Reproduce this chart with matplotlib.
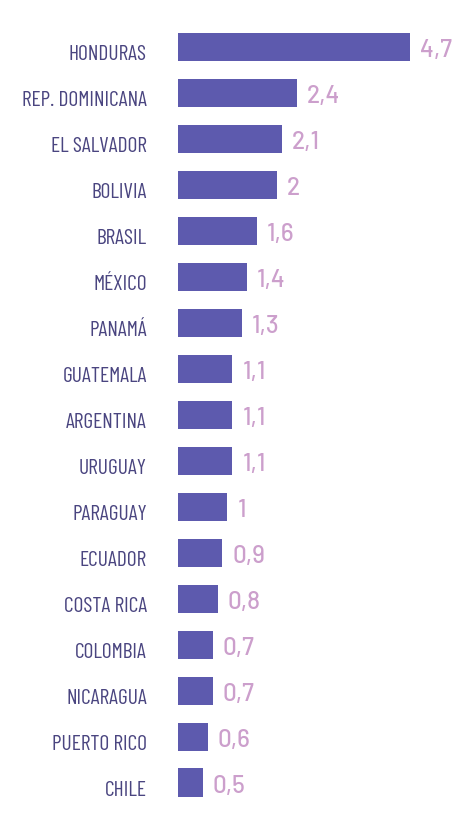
import matplotlib
matplotlib.use("Agg")
import matplotlib.pyplot as plt
import numpy as np

countries = ["HONDURAS", "REP. DOMINICANA", "EL SALVADOR", "BOLIVIA", "BRASIL",
             "MÉXICO", "PANAMÁ", "GUATEMALA", "ARGENTINA", "URUGUAY", "PARAGUAY",
             "ECUADOR", "COSTA RICA", "COLOMBIA", "NICARAGUA", "PUERTO RICO", "CHILE"]
values = [4.7, 2.4, 2.1, 2.0, 1.6, 1.4, 1.3, 1.1, 1.1, 1.1, 1.0, 0.9, 0.8, 0.7, 0.7, 0.6, 0.5]
value_labels = ["4,7", "2,4", "2,1", "2", "1,6", "1,4", "1,3", "1,1", "1,1", "1,1", "1",
                "0,9", "0,8", "0,7", "0,7", "0,6", "0,5"]

bar_color = "#5d5aae"
label_color = "#4a4580"
value_color = "#cc9fcc"
label_fam = ["Barlow Condensed", "DejaVu Sans"]
value_fam = ["Barlow", "DejaVu Sans"]

W, H, dpi = 474, 826, 100
fig = plt.figure(figsize=(W / dpi, H / dpi), dpi=dpi)
left_px = 178
ax = fig.add_axes([left_px / W, 0, 1 - left_px / W, 1])

step = 45.97
top_c = 47
y = np.arange(len(countries))
ax.barh(y, values, height=0.61, color=bar_color, left=0)
unit_px = 49.4
ax.set_xlim(0, (W - left_px) / unit_px)
ax.set_ylim((H - top_c) / step, -top_c / step)
ax.axis("off")

for i, (c, v, lab) in enumerate(zip(countries, values, value_labels)):
    ax.annotate(c, xy=(0, i), xytext=(-31, -13), textcoords="offset pixels",
                ha="right", va="baseline", fontsize=15.5, color=label_color, family=label_fam)
    ax.annotate(lab, xy=(v, i), xytext=(10, -10), textcoords="offset pixels",
                ha="left", va="baseline", fontsize=17.5, fontweight=500,
                color=value_color, family=value_fam)

fig.savefig("out.png", dpi=dpi, facecolor="white")
